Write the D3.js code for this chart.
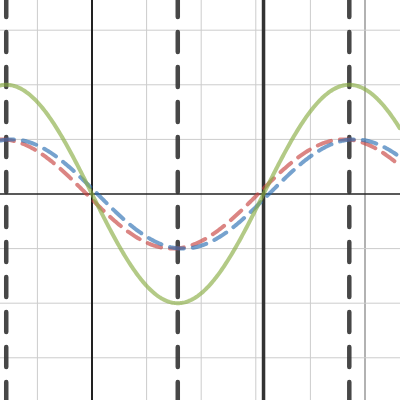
<!DOCTYPE html><html><head><script src="https://cdn.jsdelivr.net/npm/d3@7"></script>
<style>body{margin:0}</style></head><body><svg id="c" width="400" height="400"></svg>
<script>
const xDomain=[-1.685,5.641];
const yDomain=[-3.773,3.553];
const gridX=[-1,1,2,3,4,5];
const gridY=[-3,-2,-1,1,2,3];
const vDashed=[-Math.PI/2,Math.PI/2,3*Math.PI/2];
const vSolid=[Math.PI];
const greenAmp=2, redShift=0.1, blueShift=-0.1;
const svg=d3.select("#c");
const x=d3.scaleLinear().domain(xDomain).range([0,400]);
const y=d3.scaleLinear().domain(yDomain).range([400,0]);
svg.append("rect").attr("width",400).attr("height",400).attr("fill","#fff");
svg.selectAll(".gx").data(gridX).join("line").attr("x1",d=>x(d)).attr("x2",d=>x(d)).attr("y1",0).attr("y2",400).attr("stroke",d=>d===5?"#999":"#ccc").attr("stroke-width",d=>d===5?1.5:1);
svg.selectAll(".gy").data(gridY).join("line").attr("y1",d=>y(d)).attr("y2",d=>y(d)).attr("x1",0).attr("x2",400).attr("stroke","#ccc");
svg.append("line").attr("x1",0).attr("x2",400).attr("y1",y(0)).attr("y2",y(0)).attr("stroke","#222").attr("stroke-width",1.5);
svg.append("line").attr("y1",0).attr("y2",400).attr("x1",x(0)).attr("x2",x(0)).attr("stroke","#222").attr("stroke-width",2);
svg.selectAll(".vs").data(vSolid).join("line").attr("x1",d=>x(d)).attr("x2",d=>x(d)).attr("y1",0).attr("y2",400).attr("stroke","#333").attr("stroke-width",3.5);
svg.selectAll(".vd").data(vDashed).join("line").attr("x1",d=>x(d)).attr("x2",d=>x(d)).attr("y1",-3).attr("y2",400).attr("stroke","#333").attr("stroke-opacity",0.9).attr("stroke-width",4.5).attr("stroke-dasharray","20,15").attr("stroke-linecap","round");
const xs=d3.range(xDomain[0],xDomain[1]+0.01,0.02);
const line=d3.line().x(d=>x(d[0])).y(d=>y(d[1]));
const curves=[
 {f:t=>-Math.sin(t+redShift),c:"#c74440",dash:"14,9"},
 {f:t=>-Math.sin(t+blueShift),c:"#2d70b3",dash:"14,9"},
 {f:t=>-greenAmp*Math.sin(t),c:"#8aad45",dash:null}];
curves.forEach(k=>{svg.append("path").attr("d",line(xs.map(t=>[t,k.f(t)]))).attr("fill","none").attr("stroke",k.c).attr("stroke-opacity",0.65).attr("stroke-width",4).attr("stroke-dasharray",k.dash).attr("stroke-linecap","round");});
</script></body></html>
